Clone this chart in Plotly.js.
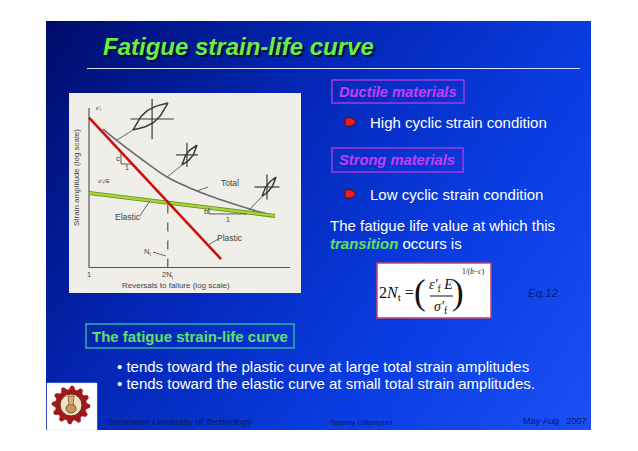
<!DOCTYPE html>
<html>
<head>
<meta charset="utf-8">
<script src="https://cdn.plot.ly/plotly-3.0.1.min.js"></script>
<style>
html,body{margin:0;padding:0;background:#ffffff;width:638px;height:451px;overflow:hidden;}
#slide{position:absolute;left:46px;top:21px;width:545px;height:409px;
background:linear-gradient(125deg,#000c6a 0%,#0326b4 35%,#0a3ee4 70%,#1a50f4 100%);}
#plot{position:absolute;left:0;top:0;width:638px;height:451px;}
</style>
</head>
<body>
<div id="slide"></div>
<div id="plot"></div>
<script>
// ---------------- data ----------------
// Plastic strain line (reversals, strain amplitude)
const plasticX = [1, 424];
const plasticY = [0.095, 0.000147];
// Elastic strain line
const elasticX = [1, 5025];
const elasticY = [0.00303, 0.00106];
// Total strain curve
const totalX = [1.9, 4.14, 10.35, 35.7, 102, 294, 1012, 2529, 5025];
const totalY = [0.0566, 0.0299, 0.01503, 0.00629, 0.00381, 0.00252, 0.00167, 0.00127, 0.00106];
// Transition life 2Nt and strain at the crossing
const transitionX = [37, 37];
const transitionY = [0.0001, 0.00194];
// Axis frame
const axisOriginX = 1, axisOriginY = 0.0001, axisEndX = 10000, axisTopY = 0.148;
// Tick labels
const tickVals = [1, 37];
const tickText = ['1', '2N<sub>t</sub>'];
// Slope triangles
const cTriX = [4.33, 4.33, 7.25];
const cTriY = [0.0198, 0.01143, 0.01143];
const bTriX = [244, 244, 1394];
const bTriY = [0.00153, 0.00116, 0.00116];
// Hysteresis loop sketches (lens ends, half width in decades, cross centre/arms, leader start)
const loopAX = [7.5, 71, 2773];
const loopAY = [0.054, 0.0109, 0.00258];
const loopBX = [37, 141, 5265];
const loopBY = [0.186, 0.0272, 0.0063];
const loopHalfWidth = [0.13, 0.06, 0.05];
const crossX = [18, 89, 3485];
const crossY = [0.0895, 0.0173, 0.00398];
const crossArmH = [0.43, 0.22, 0.25];
const crossArmV = [0.40, 0.24, 0.25];
const leaderFromX = [3.6, 36, 1528];
const leaderFromY = [0.0343, 0.0063, 0.00139];

// ---------------- helpers ----------------
const W = 638, H = 451;
const px = x => x / W;
const py = y => 1 - y / H;
const L = Math.log10;
const SANS = 'Liberation Sans, Arial, sans-serif';
const SERIF = 'Liberation Serif, Times New Roman, serif';

function line(x, y, color, width, dash) {
  return {type: 'scatter', mode: 'lines', x: x, y: y, hoverinfo: 'skip',
    line: {color: color, width: width, dash: dash || 'solid', shape: 'linear'}, showlegend: false};
}

const traces = [];
// axes
traces.push(line([axisOriginX, axisOriginX], [axisOriginY, axisTopY], '#555555', 1.2));
traces.push(line([axisOriginX, axisEndX], [axisOriginY, axisOriginY], '#555555', 1.2));
// transition dashed line
traces.push(line(transitionX, transitionY, '#555555', 1.2, 'dash'));
// total curve
const tot = line(totalX, totalY, '#6a6a6a', 1.6);
tot.line.shape = 'spline';
traces.push(tot);
// elastic & plastic
traces.push(line(elasticX, elasticY, '#5f8a1e', 4));
traces.push(line(elasticX, elasticY, '#a8d436', 2.4));
traces.push(line(plasticX, plasticY, '#cc1010', 2.6));
// slope triangles
traces.push(line(cTriX, cTriY, '#555555', 1));
traces.push(line(bTriX, bTriY, '#555555', 1));
// hysteresis loops
for (let i = 0; i < loopAX.length; i++) {
  const ax = L(loopAX[i]), ay = L(loopAY[i]), bx = L(loopBX[i]), by = L(loopBY[i]);
  const dx = bx - ax, dy = by - ay, len = Math.hypot(dx, dy);
  const nx = -dy / len, ny = dx / len, w = loopHalfWidth[i];
  const lx = [], ly = [];
  const N = 24;
  for (let k = 0; k <= N; k++) {
    const t = k / N, s = Math.sin(Math.PI * t) * w;
    lx.push(Math.pow(10, ax + dx * t + nx * s)); ly.push(Math.pow(10, ay + dy * t + ny * s));
  }
  for (let k = N; k >= 0; k--) {
    const t = k / N, s = Math.sin(Math.PI * t) * w;
    lx.push(Math.pow(10, ax + dx * t - nx * s)); ly.push(Math.pow(10, ay + dy * t - ny * s));
  }
  traces.push(line(lx, ly, '#3a3a3a', 1.5));
  const cx = L(crossX[i]), cy = L(crossY[i]);
  traces.push(line([Math.pow(10, cx - crossArmH[i]), Math.pow(10, cx + crossArmH[i])], [crossY[i], crossY[i]], '#3a3a3a', 1.2));
  traces.push(line([crossX[i], crossX[i]], [Math.pow(10, cy - crossArmV[i]), Math.pow(10, cy + crossArmV[i])], '#3a3a3a', 1.2));
  traces.push(line([leaderFromX[i], loopAX[i]], [leaderFromY[i], loopAY[i]], '#666666', 1));
}
// label leaders
traces.push(line([141, 233], [0.00332, 0.00398], '#666666', 1));      // Total
traces.push(line([10.3, 16.4], [0.00106, 0.00214], '#666666', 1));    // Elastic
traces.push(line([233, 405], [0.000279, 0.000385], '#666666', 1));   // Plastic
traces.push(line([18.8, 34], [0.000203, 0.000169], '#666666', 1));   // Nt

// ---------------- annotations ----------------
const ann = [];
function dataText(text, x, y, size, anchor, color, extra) {
  ann.push(Object.assign({xref: 'x', yref: 'y', x: L(x), y: L(y), text: text, showarrow: false,
    xanchor: anchor || 'center', yanchor: 'middle',
    font: {family: SANS, size: size, color: color || '#444444'}}, extra || {}));
}
function paperText(text, x, y, size, color, anchor, extra) {
  ann.push(Object.assign({xref: 'paper', yref: 'paper', x: px(x), y: py(y), text: text, showarrow: false,
    xanchor: anchor || 'left', yanchor: 'middle',
    font: {family: SANS, size: size, color: color}}, extra || {}));
}
function serif(size, italic) {
  return {font: {family: SERIF, size: size, color: '#111111', style: italic ? 'italic' : 'normal'}};
}

// chart labels
dataText('Total', 386, 0.00479, 8.5, 'left');
dataText('Elastic', 5.97, 0.00101, 8.5, 'center');
dataText('Plastic', 640, 0.000385, 8.5, 'center');
dataText('N<sub>t</sub>', 14.3, 0.000203, 7.5, 'center');
dataText('c', 3.75, 0.0145, 8, 'center');
dataText('1', 5.6, 0.0098, 7, 'center');
dataText('b', 213, 0.00128, 8, 'center');
dataText('1', 583, 0.00092, 7, 'center');
dataText('ε′<sub>f</sub>', 1.58, 0.148, 6, 'center');
dataText('σ′<sub>f</sub>/E', 1.95, 0.0052, 6, 'center');
for (let i = 0; i < tickVals.length; i++) dataText(tickText[i], tickVals[i], 0.0000715, 7.5, 'center');
paperText('Reversals to failure (log scale)', 176, 285, 8, '#444444', 'center');
paperText('Strain amplitude (log scale)', 76, 178, 8, '#444444', 'center', {textangle: -90});

// slide title (with drop shadow)
paperText('Fatigue strain-life curve', 101, 46, 24, '#6aee44', 'left',
  {font: {family: SANS, size: 24, color: '#6aee44', weight: 'bold', style: 'italic', shadow: '2px 2px 1px #000a3a'}});

// right column
paperText('<b><i>Ductile materials</i></b>', 398, 92, 14.7, '#c93cf5', 'center');
paperText('High cyclic strain condition', 368, 122, 15, '#ffffff');
paperText('<b><i>Strong materials</i></b>', 397, 160, 14.7, '#c93cf5', 'center');
paperText('Low cyclic strain condition', 368, 194, 15, '#ffffff');
paperText('The fatigue life value at which this', 328, 225, 15, '#ffffff');
paperText('<span style="color:#5fe060"><b><i>transition</i></b></span> occurs is', 328, 243, 15, '#ffffff');

// equation
paperText('2<i>N</i><sub>t</sub> =', 396, 293, 16, '#111111', 'center', serif(16));
paperText('(', 420, 292, 35, '#111111', 'center', serif(35));
paperText(')', 458, 292, 35, '#111111', 'center', serif(35));
paperText('<i>ε′</i><sub>f</sub> <i>E</i>', 441, 285, 14, '#111111', 'center', serif(14));
paperText('<i>σ′</i><sub>f</sub>', 441, 307, 14, '#111111', 'center', serif(14));
paperText('1/(<i>b</i>−<i>c</i>)', 473, 271, 7.5, '#111111', 'center', serif(7.5));
paperText('<i>Eq.12</i>', 543, 293, 11.5, '#0c1a70', 'center');

// bottom box & bullets
paperText('<b>The fatigue strain-life curve</b>', 190, 336, 15, '#62e066', 'center');
paperText('• tends toward the plastic curve at large total strain amplitudes', 115, 366, 15, '#ffffff');
paperText('• tends toward the elastic curve at small total strain amplitudes.', 115, 383, 15, '#ffffff');

// footer
paperText('Suranaree University of Technology', 105, 422, 9.2, '#0a1764');
paperText('Tapany Udomphol', 328, 422, 7.8, '#0a1764');
paperText('May-Aug   2007', 589, 421, 9, '#0a1764', 'right');

// ---------------- shapes ----------------
const shapes = [];
function rect(x0, y0, x1, y1, lineColor, lw, fill) {
  shapes.push({type: 'rect', xref: 'paper', yref: 'paper', x0: px(x0), y0: py(y0), x1: px(x1), y1: py(y1),
    line: {color: lineColor, width: lw}, fillcolor: fill || 'rgba(0,0,0,0)', layer: 'below'});
}
function pline(x0, y0, x1, y1, color, w) {
  shapes.push({type: 'line', xref: 'paper', yref: 'paper', x0: px(x0), y0: py(y0), x1: px(x1), y1: py(y1),
    line: {color: color, width: w}});
}
function ppath(pts, fill, lineColor, lw) {
  const d = pts.map((p, i) => (i ? 'L' : 'M') + px(p[0]) + ',' + py(p[1])).join(' ') + ' Z';
  shapes.push({type: 'path', xref: 'paper', yref: 'paper', path: d, fillcolor: fill,
    line: {color: lineColor, width: lw}});
}
pline(87, 68.5, 580, 68.5, '#d8dcf0', 1);
rect(332, 80, 464, 103, '#a03ae0', 1.5);
rect(332, 148, 463, 172, '#a03ae0', 1.5);
rect(377, 263, 491, 318, '#c8416a', 1.5, '#ffffff');
pline(430, 296, 453, 296, '#111111', 1);
rect(86, 324, 294, 348, '#35b0a8', 1.5);
// red arrow bullets
[122, 194].forEach(yc => {
  ppath([[345, yc - 4], [352, yc - 4], [356, yc], [352, yc + 4], [345, yc + 4]], '#ee1c1c', '#4a1010', 1);
});
// logo
rect(47, 383, 97, 430, '#dddddd', 0.5, '#ffffff');
(function () {
  const cx = 71, cy = 405, teeth = 12, pts = [];
  for (let k = 0; k < teeth * 4; k++) {
    const a = (k / (teeth * 4)) * 2 * Math.PI;
    const r = (k % 4 === 0 || k % 4 === 1) ? 19 : 15.5;
    pts.push([cx + r * Math.cos(a), cy + r * Math.sin(a)]);
  }
  ppath(pts, '#a3161a', '#7a0e10', 0.5);
  shapes.push({type: 'circle', xref: 'paper', yref: 'paper', x0: px(cx - 11), x1: px(cx + 11), y0: py(cy - 11), y1: py(cy + 11),
    fillcolor: '#efe2c4', line: {color: '#6a2a10', width: 1}});
  shapes.push({type: 'circle', xref: 'paper', yref: 'paper', x0: px(cx - 5), x1: px(cx + 5), y0: py(cy - 1), y1: py(cy + 8),
    fillcolor: '#c79a5a', line: {color: '#5a3010', width: 0.8}});
  ppath([[cx - 3, cy - 9], [cx + 3, cy - 9], [cx + 2, cy], [cx - 2, cy]], '#d9b070', '#5a3010', 0.6);
})();

const layout = {
  width: W, height: H,
  margin: {l: 0, r: 0, t: 0, b: 0, pad: 0},
  paper_bgcolor: 'rgba(0,0,0,0)',
  plot_bgcolor: '#efeee8',
  showlegend: false,
  xaxis: {type: 'log', domain: [69 / W, 301 / W], range: [-0.398, 4.219], showgrid: false, zeroline: false,
    showticklabels: false, showline: false, ticks: '', fixedrange: true},
  yaxis: {type: 'log', domain: [1 - 293 / H, 1 - 93 / H], range: [-4.507, -0.531], showgrid: false, zeroline: false,
    showticklabels: false, showline: false, ticks: '', fixedrange: true},
  annotations: ann,
  shapes: shapes
};

Plotly.newPlot('plot', traces, layout, {staticPlot: true, displayModeBar: false});
</script>
</body>
</html>
